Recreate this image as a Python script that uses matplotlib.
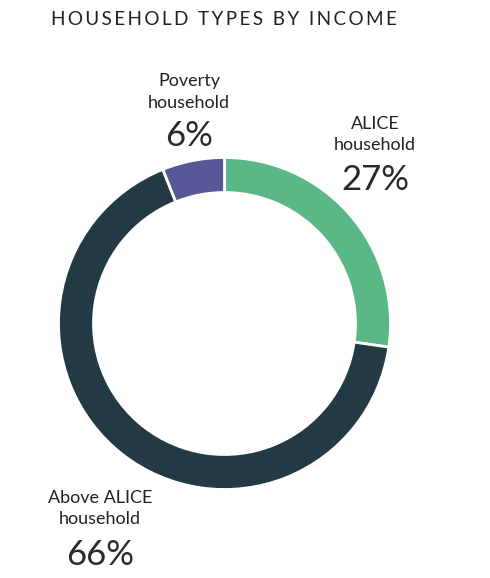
import matplotlib.pyplot as plt

# data
labels = ['ALICE\nhousehold', 'Above ALICE\nhousehold', 'Poverty\nhousehold']
values = [27, 66, 6]
colors = ['#5ab887', '#233a45', '#565796']

H = 578
fig = plt.figure(figsize=(4.9, 5.78), dpi=100)
ax = fig.add_axes([0, 0, 1, 1])

ax.pie(values, colors=colors, startangle=90, counterclock=False,
       center=(224.5, H - 323.5), radius=166, frame=True,
       wedgeprops=dict(width=35, edgecolor='white', linewidth=2))
ax.set_xlim(0, 490)
ax.set_ylim(0, H)
ax.set_aspect('equal')
ax.axis('off')

title = '\u2009'.join('HOUSEHOLD TYPES BY INCOME')
ax.text(51, H - 25, title, fontsize=13.6, family='Lato', color='#222222',
        ha='left', va='baseline')

# label positions in pixels: (x center, first line baseline, pct baseline)
label_pos = [(375, 129, 190), (100, 503, 565), (189, 86, 146)]
for lab, v, (x, y0, yp) in zip(labels, values, label_pos):
    l1, l2 = lab.split('\n')
    ax.text(x, H - y0, l1, fontsize=13, family='Lato', color='#222222',
            ha='center', va='baseline')
    ax.text(x, H - y0 - 21.5, l2, fontsize=13, family='Lato', color='#222222',
            ha='center', va='baseline')
    ax.text(x, H - yp, f'{v}%', fontsize=25, family='Lato', fontweight='normal',
            color='#2a2a2a', ha='center', va='baseline')

fig.savefig('out.png', dpi=100)
